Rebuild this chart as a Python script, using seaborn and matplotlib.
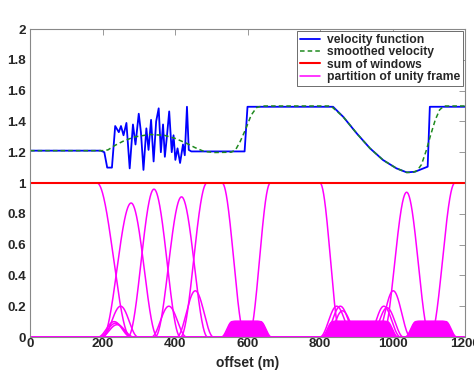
import numpy as np
import pandas as pd
import seaborn as sns
import matplotlib.pyplot as plt
from matplotlib.lines import Line2D

# velocity function (piecewise linear samples)
vel_x = [0, 195, 205, 213, 226, 235, 245, 251, 258, 266, 275, 284, 291, 300, 306,
         313, 321, 327, 334, 341, 348, 355, 361, 367, 372, 378, 384, 391, 396, 401,
         407, 414, 422, 427, 433, 438, 445, 592, 600, 836, 864, 901, 938, 974, 1011,
         1039, 1062, 1097, 1103, 1200]
vel_y = [1.21, 1.21, 1.20, 1.10, 1.10, 1.37, 1.33, 1.37, 1.31, 1.39, 1.095, 1.38, 1.25,
         1.45, 1.33, 1.085, 1.355, 1.215, 1.41, 1.14, 1.40, 1.485, 1.20, 1.38, 1.17,
         1.31, 1.465, 1.20, 1.31, 1.15, 1.225, 1.13, 1.25, 1.18, 1.495, 1.215, 1.205,
         1.205, 1.495, 1.495, 1.43, 1.323, 1.225, 1.149, 1.095, 1.069, 1.073, 1.106,
         1.495, 1.495]

# smoothed velocity
smooth_x = [0, 200, 215, 235, 260, 290, 330, 370, 400, 430, 455, 480, 510, 555, 567,
            580, 595, 610, 625, 640, 830, 864, 901, 938, 974, 1011, 1039, 1055, 1068,
            1080, 1093, 1105, 1118, 1130, 1142, 1200]
smooth_y = [1.21, 1.21, 1.215, 1.245, 1.275, 1.30, 1.315, 1.31, 1.29, 1.26, 1.23,
            1.205, 1.198, 1.2, 1.215, 1.27, 1.35, 1.44, 1.49, 1.5, 1.5, 1.43, 1.323,
            1.225, 1.149, 1.095, 1.069, 1.068, 1.08, 1.12, 1.21, 1.31, 1.41, 1.475,
            1.5, 1.5]

# sum of windows
sum_x = [0, 1200]
sum_y = [1, 1]

# large windows: rise start, rise end, fall start, fall end, height
win_a = [0, 200, 270, 345, 415, 603, 972, 1104]
win_b = [0, 279, 342, 418, 488, 663, 1039, 1172]
win_c = [185, 279, 342, 418, 530, 800, 1039, 1200]
win_d = [277, 352, 415, 490, 594, 858, 1104, 1200]
win_h = [1.0, 0.87, 0.96, 0.91, 1.0, 1.0, 0.94, 1.0]

# small peaked windows: start, peak, end, height
bump_a = [188, 192, 196, 200, 335, 405, 800, 810, 818, 932, 940, 955]
bump_p = [232, 236, 240, 250, 383, 456, 846, 856, 862, 976, 985, 1002]
bump_d = [278, 282, 286, 298, 432, 506, 893, 903, 908, 1022, 1030, 1050]
bump_h = [0.10, 0.09, 0.08, 0.20, 0.20, 0.30, 0.20, 0.20, 0.17, 0.20, 0.19, 0.30]

# dense clusters of flat-topped windows (height 0.1)
cluster_lo = [528, 805, 1035]
cluster_hi = [667, 1016, 1177]
cluster_h = 0.1

xticks = [0, 200, 400, 600, 800, 1000, 1200]
yticks = [0, 0.2, 0.4, 0.6, 0.8, 1, 1.2, 1.4, 1.6, 1.8, 2]
ytick_labels = ['0', '0.2', '0.4', '0.6', '0.8', '1', '1.2', '1.4', '1.6', '1.8', '2']


def taper(x, a, b, c, d, h):
    y = np.zeros_like(x)
    if b > a:
        m = (x >= a) & (x < b)
        y[m] = np.sin(0.5 * np.pi * (x[m] - a) / (b - a)) ** 2
    m = (x >= b) & (x <= c)
    y[m] = 1.0
    if d > c:
        m = (x > c) & (x <= d)
        y[m] = np.cos(0.5 * np.pi * (x[m] - c) / (d - c)) ** 2
    return h * y


grid = np.linspace(0, 1200, 2401)
frames = []
k = 0
for a, b, c, d, h in zip(win_a, win_b, win_c, win_d, win_h):
    frames.append(pd.DataFrame({'x': grid, 'y': taper(grid, a, b, c, d, h), 'win': k}))
    k += 1
for a, p, d, h in zip(bump_a, bump_p, bump_d, bump_h):
    frames.append(pd.DataFrame({'x': grid, 'y': taper(grid, a, p, p, d, h), 'win': k}))
    k += 1
rise, flat, step = 30, 8, 2
for lo, hi in zip(cluster_lo, cluster_hi):
    for s in np.arange(lo, hi - 2 * rise - flat + 1, step):
        frames.append(pd.DataFrame({'x': grid,
                                    'y': taper(grid, s, s + rise, s + rise + flat,
                                               s + 2 * rise + flat, cluster_h),
                                    'win': k}))
        k += 1
windows = pd.concat(frames, ignore_index=True)

sns.set_style("white")
plt.rcParams['font.family'] = ['Liberation Sans', 'DejaVu Sans']

fig = plt.figure(figsize=(4.74, 3.78), dpi=100)
ax = fig.add_axes([30 / 474, 41 / 378, 435 / 474, 308 / 378])

magenta = '#ff00ff'
sns.lineplot(data=windows, x='x', y='y', units='win', estimator=None, sort=False,
             color=magenta, lw=1.1, ax=ax, legend=False)
sns.lineplot(x=sum_x, y=sum_y, color='#ff0000', lw=1.5, ax=ax, sort=False,
             estimator=None)
sns.lineplot(x=vel_x, y=vel_y, color='#0000ff', lw=1.3, ax=ax, sort=False,
             estimator=None)
sns.lineplot(x=smooth_x, y=smooth_y, color='#1f8a1f', lw=1.1, ax=ax, sort=False,
             estimator=None, linestyle=(0, (3, 2)))

ax.set_xlim(0, 1200)
ax.set_ylim(0, 2)
ax.set_xticks(xticks)
ax.set_xticklabels([str(t) for t in xticks], fontweight='bold', fontsize=9.7)
ax.set_yticks(yticks)
ax.set_yticklabels(ytick_labels, fontweight='bold', fontsize=9.7)
ax.tick_params(direction='in', top=True, right=True, length=4, width=0.6,
               color='#888888')
ax.tick_params(axis='x', pad=1)
ax.tick_params(axis='y', pad=3)
ax.set_xlabel('offset (m)', fontweight='bold', fontsize=10, labelpad=4)
ax.set_ylabel('')
for s in ax.spines.values():
    s.set_color('#888888')
    s.set_linewidth(0.8)

handles = [Line2D([], [], color='#0000ff', lw=1.3),
           Line2D([], [], color='#1f8a1f', lw=1.1, ls=(0, (3, 2))),
           Line2D([], [], color='#ff0000', lw=1.5),
           Line2D([], [], color=magenta, lw=1.1)]
labels = ['velocity function', 'smoothed velocity', 'sum of windows',
          'partition of unity frame']
leg = ax.legend(handles, labels, loc='upper right', bbox_to_anchor=(0.996, 0.993),
                borderaxespad=0, fancybox=False, framealpha=1, edgecolor='#555555',
                prop={'weight': 'bold', 'size': 8.7}, handlelength=1.6,
                handletextpad=0.6, labelspacing=0.02, borderpad=0.25)
leg.get_frame().set_linewidth(0.6)

fig.savefig('out.png', dpi=100)
